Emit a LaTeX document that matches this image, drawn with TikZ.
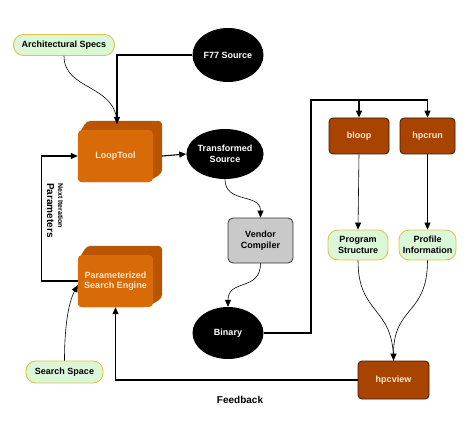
\documentclass[tikz,border=0pt]{standalone}
\usepackage{fontspec}
\setmainfont{Liberation Sans}
\usetikzlibrary{arrows.meta,shapes.geometric,backgrounds}

\definecolor{specfill}{HTML}{DAF7D8}
\definecolor{specline}{HTML}{E3C24E}
\definecolor{toolfront}{HTML}{D96A08}
\definecolor{toolside}{HTML}{B95400}
\definecolor{hpcfill}{HTML}{A94300}
\definecolor{hpcline}{HTML}{3B1800}
\definecolor{hpctext}{HTML}{FFE6CC}
\definecolor{vendorfill}{HTML}{C9C9C9}

\newcommand{\labelfont}{\bfseries\fontsize{9}{10.5}\selectfont}

\tikzset{
  spec/.style={draw=specline, fill=specfill, line width=0.9pt, rounded corners=10pt,
    font=\labelfont, align=center, inner sep=1pt},
  tool/.style={fill=toolfront, rounded corners=4pt, minimum width=75pt, minimum height=52pt,
    text=hpctext, font=\labelfont, align=center, inner sep=1pt},
  source/.style={ellipse, fill=black, text=white, font=\labelfont, align=center, inner sep=0pt},
  hpcbox/.style={draw=hpcline, fill=hpcfill, line width=0.8pt, rounded corners=4pt,
    text=hpctext, font=\labelfont, align=center, inner sep=1pt},
  conn/.style={line width=1.1pt, -{Triangle[length=7pt,width=6pt]}},
  flow/.style={line width=0.6pt, -{Triangle[length=7pt,width=6pt]}}
}

% side and top of a tool box
\newcommand{\extrude}[1]{%
  \begin{scope}[on background layer]
  \fill[toolside, rounded corners=4pt] ([yshift=-6pt]#1.north west) -- ([shift={(9pt,9pt)}]#1.north west)
    -- ([shift={(9pt,9pt)}]#1.north east) -- ([shift={(9pt,9pt)}]#1.south east)
    -- ([xshift=-6pt]#1.south east) -- (#1.south west) -- cycle;
  \end{scope}}

\begin{document}
\begin{tikzpicture}[x=1pt, y=-1pt]
\useasboundingbox (0,0) rectangle (474,433);

% inputs
\node (arch) [spec, minimum width=101pt, minimum height=21pt] at (64,45) {Architectural Specs};
\node (search) [spec, minimum width=77pt, minimum height=22pt] at (64.5,372) {Search Space};
\node (f77) [source, minimum width=71pt, minimum height=54pt] at (228,55) {F77 Source};

% tools
\node (loop) [tool] at (115.5,156) {LoopTool};
\extrude{loop}
\node (pse) [tool] at (115.5,281) {Parameterized\\Search Engine};
\extrude{pse}
\coordinate (looptop) at (117,124);

% compile chain
\node (trans) [source, minimum width=68pt, minimum height=50pt] at (225,154) {Transformed\\Source};
\node (vendor) [draw=black!80, fill=vendorfill, line width=0.8pt, rounded corners=5pt,
  minimum width=65pt, minimum height=45pt, font=\labelfont, align=center] at (260.5,240.5) {Vendor\\Compiler};
\node (binary) [source, minimum width=71pt, minimum height=52pt] at (228,333) {Binary};

% hpctoolkit
\node (bloop) [hpcbox, minimum width=60pt, minimum height=36pt] at (359,136) {bloop};
\node (hpcrun) [hpcbox, minimum width=55pt, minimum height=36pt] at (427.5,136) {hpcrun};
\node (progstruct) [spec, minimum width=60pt, minimum height=30pt] at (358,245) {Program\\Structure};
\node (profinfo) [spec, minimum width=57pt, minimum height=30pt] at (427.5,245) {Profile\\Information};
\node (hpcview) [hpcbox, minimum width=71pt, minimum height=38pt] at (393.5,380) {hpcview};
\coordinate (split) at (311,100);

% labels
\node (feedback) [font=\bfseries\fontsize{10}{12}\selectfont] at (240,400) {Feedback};
\node (params) [rotate=-90, anchor=base west, inner sep=0pt, font=\bfseries\fontsize{10}{12}\selectfont] at (47,183) {Parameters};
\node (nextit) [rotate=-90, anchor=base west, inner sep=0pt, font=\bfseries\fontsize{7}{8}\selectfont] at (58,183) {Next Iteration};

% connectors
\draw[line width=0.6pt] (arch.south) .. controls +(0,35) and +(0,-40) .. (looptop);
\draw[conn] (f77.west) -| (looptop);
\draw[conn] ([xshift=9pt]loop.east) -- (trans.west);
\draw[flow] (trans.south) .. controls +(0,25) and +(0,-25) .. (vendor.north);
\draw[flow] (vendor.south) .. controls +(0,28) and +(0,-28) .. (binary.north);
\draw[conn] (binary.east) -| (split) -| (hpcrun.north);
\draw[conn] (bloop.north |- split) -- (bloop.north);
\draw[flow] (bloop.south) -- (progstruct.north);
\draw[flow] (hpcrun.south) -- (profinfo.north);
\draw[line width=0.6pt] (progstruct.south) .. controls +(0,55) and +(0,-55) .. (hpcview.north);
\draw[flow] (profinfo.south) .. controls +(0,55) and +(0,-55) .. (hpcview.north);
\draw[conn] (hpcview.west) -| (pse.south);
\draw[conn] (pse.west) -- ++(-36,0) |- (loop.west);
\draw[flow] (search.north) .. controls +(0,-40) and +(-8,15) .. ([yshift=-4pt]pse.west);

\end{tikzpicture}
\end{document}
